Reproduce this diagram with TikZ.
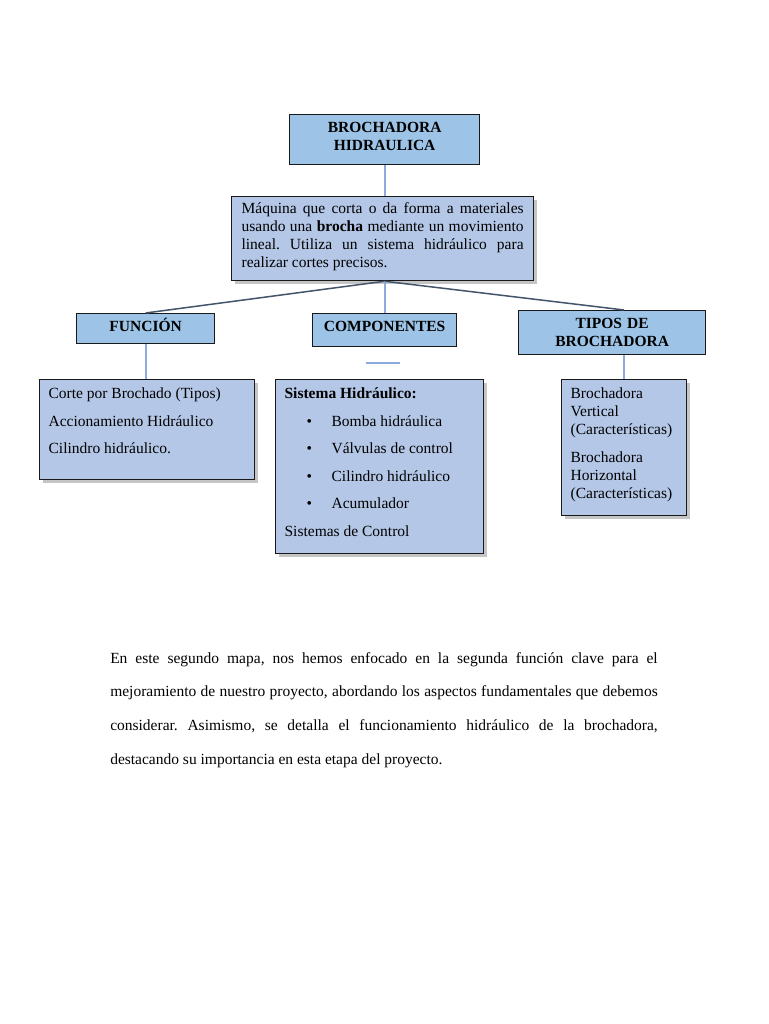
\documentclass[tikz,border=0pt]{standalone}
\usepackage{fontspec}
\setmainfont{Liberation Serif}
\usetikzlibrary{shadows}

\definecolor{cabecera}{HTML}{9DC3E6}
\definecolor{contenido}{HTML}{B4C7E7}
\definecolor{lineaclara}{HTML}{8FAADC}
\definecolor{lineaoscura}{HTML}{44546A}

\newcommand{\vineta}{\hspace*{17.6pt}\makebox[20pt][l]{\textbullet}}
\frenchspacing

\begin{document}
\begin{tikzpicture} [x = 0.8pt, y = -0.8pt, font = \fontsize{12.4}{14.4}\selectfont,
  cabeza/.style = {draw = black!90, line width = 1pt, fill = cabecera, font = \fontsize{12.4}{14.4}\selectfont\bfseries,
    align = center, inner sep = 0pt, text height = 14pt, anchor = north west},
  caja/.style = {draw = black!90, line width = 1pt, fill = contenido, align = flush left, inner xsep = 7.2pt, inner ysep = 0pt,
    text height = 15.2pt, anchor = north west, drop shadow = {shadow xshift = 2.4pt, shadow yshift = -2.4pt, opacity = 0.45}},
  clara/.style = {draw = lineaclara, line width = 1.6pt},
  oscura/.style = {draw = lineaoscura, line width = 1.2pt}]
\useasboundingbox[fill = white] (0,0) rectangle (768,1024);

\node[cabeza, text width = 152pt, text depth = 26pt](titulo) at (289,114) {BROCHADORA\\HIDRAULICA};
\node[caja, text width = 225.6pt, inner xsep = 8pt, align = justify, text height = 13.6pt, text depth = 53.6pt](definicion) at (231,196)
  {Máquina que corta o da forma a materiales\linebreak usando una \textbf{brocha} mediante un movimiento\linebreak lineal. Utiliza un sistema hidráulico para\linebreak realizar cortes precisos.};

\node[cabeza, text width = 110.4pt, text depth = 10pt](funcion) at (76,313) {FUNCIÓN};
\node[cabeza, text width = 115.2pt, text depth = 12.4pt](componentes) at (312,313) {COMPONENTES};
\node[cabeza, text width = 149.6pt, text depth = 21.2pt](tipos) at (518,310) {TIPOS DE\\BROCHADORA};

\node[caja, text width = 157.6pt, text depth = 64.8pt](funcionlista) at (39,379)
  {Corte por Brochado (Tipos)\\[7.6pt]Accionamiento Hidráulico\\[7.6pt]Cilindro hidráulico.};
\node[caja, text width = 152pt, text depth = 124pt](componenteslista) at (275,379)
  {\textbf{Sistema Hidráulico:}\\[7.6pt]\vineta Bomba hidráulica\\[7.6pt]\vineta Válvulas de control\\[7.6pt]\vineta Cilindro hidráulico\\[7.6pt]\vineta Acumulador\\[7.6pt]Sistemas de Control};
\node[caja, text width = 85.6pt, text depth = 93.6pt](tiposlista) at (561,379)
  {Brochadora\\Vertical\\(Características)\\[8pt]Brochadora\\Horizontal\\(Características)};

\coordinate (raiz) at (componentes.north |- definicion.south);
\coordinate (trazoa) at (366,363);
\coordinate (trazob) at (400,363);

\draw[clara] (titulo.south) -- (titulo.south |- definicion.north);
\draw[oscura] (raiz) -- (funcion.north);
\draw[clara] (raiz) -- (componentes.north);
\draw[oscura] (raiz) -- (tipos.north -| tiposlista.north);
\draw[clara] (funcion.south) -- (funcion.south |- funcionlista.north);
\draw[clara] (trazoa) -- (trazob);
\draw[clara] (tipos.south -| tiposlista.north) -- (tiposlista.north);

\node[anchor = base west, text width = 438pt, align = justify, inner sep = 0pt, font = \fontsize{12.4}{27}\selectfont](parrafo) at (110,663)
  {En este segundo mapa, nos hemos enfocado en la segunda función clave para el\linebreak mejoramiento de nuestro proyecto, abordando los aspectos fundamentales que debemos\linebreak considerar. Asimismo, se detalla el funcionamiento hidráulico de la brochadora,\linebreak destacando su importancia en esta etapa del proyecto.};
\end{tikzpicture}
\end{document}
